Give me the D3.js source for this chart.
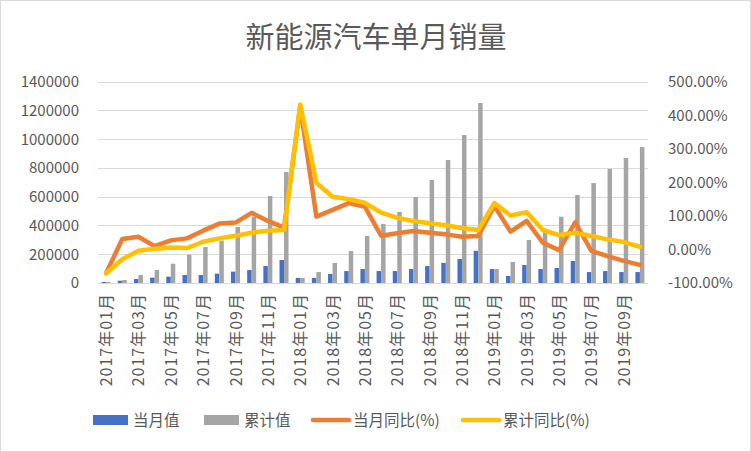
<!DOCTYPE html>
<html>
<head>
<meta charset="utf-8">
<script src="https://cdn.jsdelivr.net/npm/d3@7"></script>
<style>
  body { margin: 0; background: #fff; }
  svg { display: block; font-family: "Noto Sans CJK SC", "Noto Sans", sans-serif; }
</style>
</head>
<body>
<svg id="chart" width="751" height="452"></svg>
<script>
// kategorien: 2017-01 bis 2019-10
const months = [
  "2017年01月","2017年02月","2017年03月","2017年04月","2017年05月","2017年06月",
  "2017年07月","2017年08月","2017年09月","2017年10月","2017年11月","2017年12月",
  "2018年01月","2018年02月","2018年03月","2018年04月","2018年05月","2018年06月",
  "2018年07月","2018年08月","2018年09月","2018年10月","2018年11月","2018年12月",
  "2019年01月","2019年02月","2019年03月","2019年04月","2019年05月","2019年06月",
  "2019年07月","2019年08月","2019年09月","2019年10月"
];

// 当月值
const monthly = [
  7000, 16000, 28000, 37000, 44000, 56000, 56000, 65000, 79000, 90000, 118000, 160000,
  35000, 35000, 63000, 83000, 97000, 83000, 83000, 97000, 118000, 140000, 167000, 224000,
  97000, 49000, 125000, 97000, 104000, 153000, 76000, 83000, 76000, 76000
];

// 累计值
const cumulative = [
  7000, 21000, 56000, 90000, 134000, 197000, 250000, 295000, 390000, 461000, 605000, 772000,
  35000, 76000, 139000, 222000, 327000, 410000, 494000, 598000, 716000, 855000, 1029000, 1252000,
  97000, 146000, 299000, 355000, 461000, 612000, 695000, 793000, 869000, 946000
];

// 当月同比(%)
const monthlyYoY = [
  -71, 31, 38, 10, 27, 33, 56, 77, 80, 109, 85, 65,
  425, 98, 118, 138, 127, 41, 48, 55, 50, 45, 38, 40,
  130, 53, 85, 20, -2, 81, -4, -20, -34, -46
];

// 累计同比(%)
const cumulativeYoY = [
  -71, -29, -4, 2, 6, 4, 23, 33, 41, 50, 56, 58,
  432, 199, 157, 150, 139, 110, 94, 85, 78, 72, 64, 58,
  138, 101, 111, 58, 43, 50, 40, 30, 22, 8
];

const leftTicks = [0, 200000, 400000, 600000, 800000, 1000000, 1200000, 1400000];
const rightTicks = [-100, 0, 100, 200, 300, 400, 500];

const legendItems = [
  { label: "当月值", type: "rect", color: "#4472C4" },
  { label: "累计值", type: "rect", color: "#A5A5A5" },
  { label: "当月同比(%)", type: "line", color: "#ED7D31" },
  { label: "累计同比(%)", type: "line", color: "#FFC000" }
];

const svg = d3.select("#chart");
const W = 751, H = 452;
const plot = { left: 98, right: 648, top: 81.7, bottom: 283 };
const textColor = "#595959";

// rahmen
svg.append("rect")
  .attr("x", 0.5).attr("y", 0.5)
  .attr("width", W - 1).attr("height", H - 1)
  .attr("fill", "#fff").attr("stroke", "#d9d9d9");

// titel
svg.append("text")
  .attr("x", 376).attr("y", 48)
  .attr("text-anchor", "middle")
  .attr("fill", textColor)
  .style("font-size", "29px")
  .text("新能源汽车单月销量");

const x = d3.scaleBand().domain(months).range([plot.left, plot.right]).padding(0);
const xSub = d3.scaleBand().domain(["m", "c"]).range([0, x.bandwidth()]).paddingInner(0).paddingOuter(0.8);
const yL = d3.scaleLinear().domain([0, 1400000]).range([plot.bottom, plot.top]);
const yR = d3.scaleLinear().domain([-100, 500]).range([plot.bottom, plot.top]);

// gitterlinien
svg.append("g").selectAll("line")
  .data(leftTicks)
  .join("line")
  .attr("x1", plot.left).attr("x2", plot.right)
  .attr("y1", d => Math.round(yL(d)) + 0.5).attr("y2", d => Math.round(yL(d)) + 0.5)
  .attr("stroke", "#d9d9d9").attr("stroke-width", 1);

// achsen links / rechts
const axL = svg.append("g")
  .attr("transform", `translate(${plot.left - 16},0)`)
  .call(d3.axisLeft(yL).tickValues(leftTicks).tickSize(0).tickFormat(d3.format("d")));
axL.select(".domain").remove();
axL.selectAll("text")
  .attr("fill", textColor)
  .style("font-size", "15px")
  .style("font-family", "'Noto Sans CJK SC', sans-serif");

const axR = svg.append("g")
  .attr("transform", `translate(${plot.right + 17},0)`)
  .call(d3.axisRight(yR).tickValues(rightTicks).tickSize(0).tickFormat(d => d.toFixed(2) + "%"));
axR.select(".domain").remove();
axR.selectAll("text")
  .attr("fill", textColor)
  .style("font-size", "15px")
  .style("font-family", "'Noto Sans CJK SC', sans-serif");

// balken
const bars = svg.append("g");
bars.selectAll("rect.m")
  .data(months)
  .join("rect")
  .attr("class", "m")
  .attr("x", (d) => x(d) + xSub("m"))
  .attr("width", xSub.bandwidth())
  .attr("y", (d, i) => yL(monthly[i]))
  .attr("height", (d, i) => plot.bottom - yL(monthly[i]))
  .attr("fill", "#4472C4");

bars.selectAll("rect.c")
  .data(months)
  .join("rect")
  .attr("class", "c")
  .attr("x", (d) => x(d) + xSub("c"))
  .attr("width", xSub.bandwidth())
  .attr("y", (d, i) => yL(cumulative[i]))
  .attr("height", (d, i) => plot.bottom - yL(cumulative[i]))
  .attr("fill", "#A5A5A5");

// x-achse linie
svg.append("line")
  .attr("x1", plot.left).attr("x2", plot.right)
  .attr("y1", plot.bottom + 0.5).attr("y2", plot.bottom + 0.5)
  .attr("stroke", "#d9d9d9");

// linien
const line = d3.line()
  .x((d, i) => x(months[i]) + x.bandwidth() / 2)
  .y(d => yR(d));

svg.append("path")
  .datum(monthlyYoY)
  .attr("d", line)
  .attr("fill", "none")
  .attr("stroke", "#ED7D31")
  .attr("stroke-width", 4.5)
  .attr("stroke-linejoin", "round")
  .attr("stroke-linecap", "round");

svg.append("path")
  .datum(cumulativeYoY)
  .attr("d", line)
  .attr("fill", "none")
  .attr("stroke", "#FFC000")
  .attr("stroke-width", 4.5)
  .attr("stroke-linejoin", "round")
  .attr("stroke-linecap", "round");

// x labels, jedes zweite
svg.append("g").selectAll("text")
  .data(months.filter((d, i) => i % 2 === 0))
  .join("text")
  .attr("transform", d => `translate(${x(d) + x.bandwidth() / 2 + 6},${plot.bottom + 10}) rotate(-90)`)
  .attr("text-anchor", "end")
  .attr("fill", textColor)
  .style("font-size", "16px")
  .style("letter-spacing", "1px")
  .text(d => d);

// legende
const xLeg = [93, 204, 312, 462];
const leg = svg.append("g").selectAll("g")
  .data(legendItems)
  .join("g")
  .attr("transform", (d, i) => `translate(${xLeg[i]},420)`);

leg.filter(d => d.type === "rect").append("rect")
  .attr("x", 0).attr("y", -5)
  .attr("width", 35).attr("height", 10)
  .attr("fill", d => d.color);

leg.filter(d => d.type === "line").append("line")
  .attr("x1", 1).attr("x2", 37)
  .attr("y1", 0).attr("y2", 0)
  .attr("stroke", d => d.color)
  .attr("stroke-width", 4.5)
  .attr("stroke-linecap", "round");

leg.append("text")
  .attr("x", d => d.type === "rect" ? 40 : 41)
  .attr("y", 5.5)
  .attr("fill", textColor)
  .style("font-size", "15.5px")
  .text(d => d.label);
</script>
</body>
</html>
